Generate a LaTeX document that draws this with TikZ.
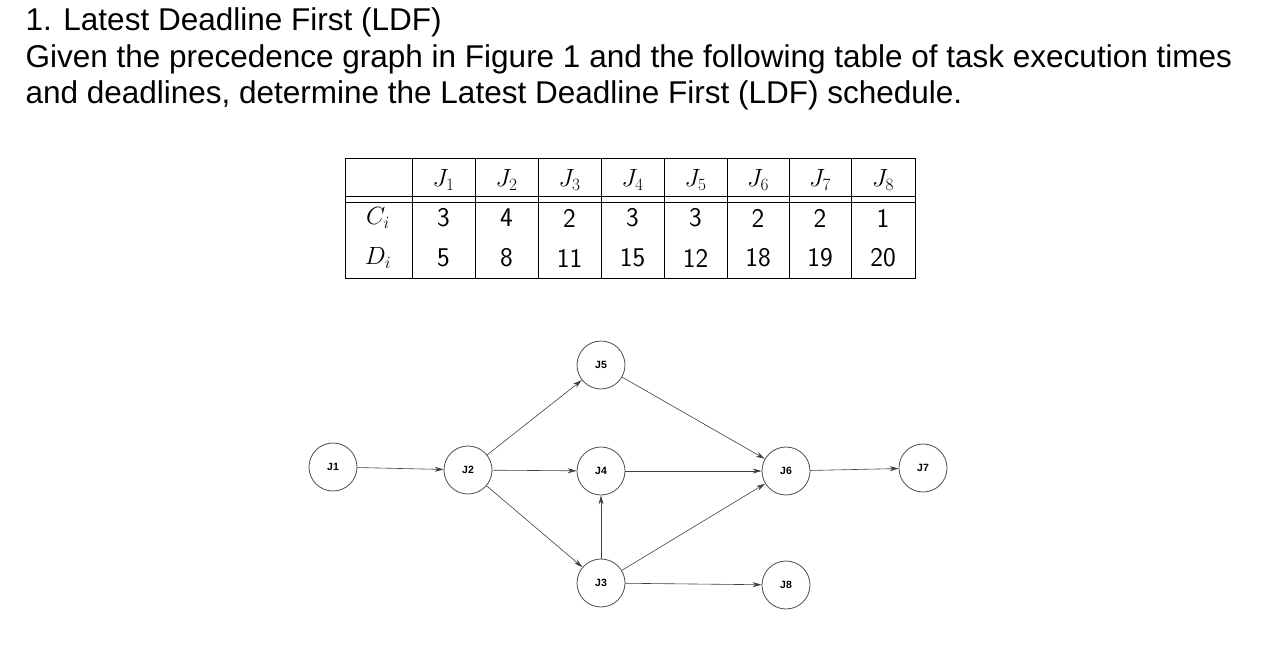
\documentclass[tikz,border=0pt]{standalone}
\usepackage{fontspec}
\newfontfamily\arial{Liberation Sans}
\usetikzlibrary{arrows.meta}
\begin{document}
\begin{tikzpicture}[x=1pt,y=-1pt,
  job/.style={circle,draw=black!70,thick,minimum size=48pt,inner sep=0pt,font=\arial\bfseries\fontsize{10.5}{10}\selectfont},
  edge/.style={draw=black!75,line width=0.6pt,-{Stealth[length=9pt,width=5pt]}},
  cell/.style={font=\fontsize{27}{27}\selectfont},
  ttl/.style={anchor=base west,font=\arial\fontsize{31.5}{31}\selectfont}]
\useasboundingbox (0,0) rectangle (1261,645);
\node[ttl] (t1) at (22,30) {1. Latest Deadline First (LDF)};
\node[ttl] (t2) at (22,67) {Given the precedence graph in Figure 1 and the following table of task execution times};
\node[ttl] (t3) at (22,103) {and deadlines, determine the Latest Deadline First (LDF) schedule.};
% table
\draw[line width=1pt] (345,158) rectangle (915,278);
\draw[line width=1pt] (345,196) -- (915,196) (345,202) -- (915,202);
\foreach \x in {412,475,538,601,664,727,789,851} \draw[line width=1pt] (\x,158) -- (\x,278);
\foreach \n/\x in {1/443.5,2/506.5,3/569.5,4/632.5,5/695.5,6/758,7/820,8/883}
  \node[cell] (h\n) at (\x,180) {$J_{\n}$};
\node[cell] (ci) at (378,218) {$C_i$};
\node[cell] (di) at (378,258) {$D_i$};
\foreach \v [count=\i] in {3,4,2,3,3,2,2,1}{
  \pgfmathsetmacro\xx{{443.5,506.5,569.5,632.5,695.5,758,820,883}[\i-1]}
  \node[cell,font=\sffamily\fontsize{27}{27}\selectfont] (c\i) at (\xx,218) {\v};}
\foreach \v [count=\i] in {5,8,11,15,12,18,19,20}{
  \pgfmathsetmacro\xx{{443.5,506.5,569.5,632.5,695.5,758,820,883}[\i-1]}
  \node[cell,font=\sffamily\fontsize{27}{27}\selectfont] (d\i) at (\xx,258) {\v};}
% graph
\node[job] (J1) at (333,467) {J1};
\node[job] (J2) at (468,470) {J2};
\node[job] (J5) at (601,365) {J5};
\node[job] (J4) at (601,471) {J4};
\node[job] (J3) at (601,583) {J3};
\node[job] (J6) at (786,471) {J6};
\node[job] (J8) at (786,585) {J8};
\node[job] (J7) at (923,468) {J7};
\draw[edge] (J1) -- (J2);
\draw[edge] (J2) -- (J5);
\draw[edge] (J2) -- (J4);
\draw[edge] (J2) -- (J3);
\draw[edge] (J5) -- (J6);
\draw[edge] (J4) -- (J6);
\draw[edge] (J3) -- (J4);
\draw[edge] (J3) -- (J6);
\draw[edge] (J3) -- (J8);
\draw[edge] (J6) -- (J7);
\end{tikzpicture}
\end{document}
